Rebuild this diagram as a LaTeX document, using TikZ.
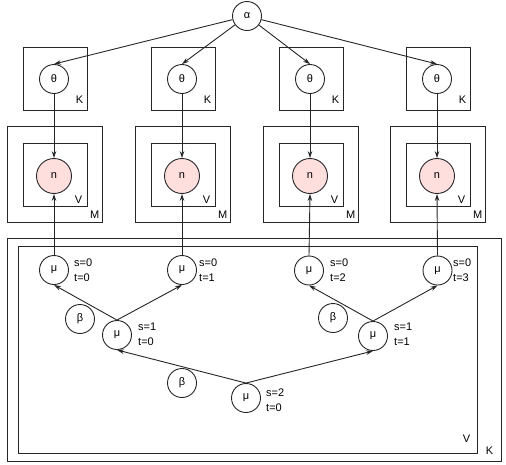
\documentclass[tikz,border=0pt]{standalone}
\usepackage{fontspec}
\setmainfont{Liberation Sans}
\usetikzlibrary{arrows.meta}
\begin{document}
\begin{tikzpicture}[x=1pt,y=-1pt,
  every node/.style={font=\fontsize{11}{15}\selectfont},
  var/.style={circle,draw=black!85,line width=0.9pt,minimum size=29pt,inner sep=0pt},
  obs/.style={circle,draw=black!85,line width=0.9pt,fill=red!13,minimum size=35pt,inner sep=0pt},
  plate/.style={rectangle,draw=black!85,line width=0.9pt,inner sep=0pt},
  platelbl/.style={anchor=base east,inner sep=0pt},
  sub/.style={anchor=west,align=left,inner sep=0pt},
  edge/.style={draw=black!85,line width=0.9pt,-{Stealth[length=7pt,width=4.5pt]}},
  line/.style={draw=black!85,line width=0.9pt}]
\useasboundingbox (0,0) rectangle (506,464);
\fill[white] (0,0) rectangle (506,464);

\node[var] (alpha) at (247,16) {α};

\foreach \i/\x in {1/54,2/182,3/310,4/437}{
  \node[plate,minimum width=95pt,minimum height=96pt] (M\i) at (\x+0.5,174) {};
  \node[plate,minimum width=64pt,minimum height=63pt] (V\i) at (\x+1,174.5) {};
  \node[plate,minimum width=64pt,minimum height=63pt] (K\i) at (\x+1,78.5) {};
  \node[var] (theta\i) at (\x,79) {θ};
  \node[obs] (n\i) at (\x,176) {n};
  \node[platelbl] at ([xshift=-4pt,yshift=7pt]K\i.south east) {K};
  \node[platelbl] at ([xshift=-5pt,yshift=2.5pt]V\i.south east) {V};
  \node[platelbl] at ([xshift=-3pt,yshift=4pt]M\i.south east) {M};
  \draw[edge] (alpha) -- (theta\i.north);
  \draw[edge] (theta\i.south) -- (n\i.north);
}

\node[plate,minimum width=494pt,minimum height=223pt] (Kb) at (254,349.5) {};
\node[plate,minimum width=459pt,minimum height=207pt] (Vb) at (247.5,349.5) {};
\node[platelbl] at ([xshift=-7pt,yshift=11pt]Vb.south east) {V};
\node[platelbl] at ([xshift=-8pt,yshift=7pt]Kb.south east) {K};

\node[var] (m00) at (54,270) {μ};
\node[var] (m01) at (182,270) {μ};
\node[var] (m02) at (309,270.5) {μ};
\node[var] (m03) at (437.5,270.5) {μ};
\node[var] (m10) at (117,335) {μ};
\node[var] (m11) at (373,336) {μ};
\node[var] (m20) at (246,398) {μ};
\node[var] (b1) at (80,319) {β};
\node[var] (b2) at (182,383) {β};
\node[var] (b3) at (333,318) {β};

\node[sub] at (74,270.5) {s=0\\t=0};
\node[sub] at (199,270.5) {s=0\\t=1};
\node[sub] at (330,270.5) {s=0\\t=2};
\node[sub] at (453,270) {s=0\\t=3};
\node[sub] at (138,334) {s=1\\t=0};
\node[sub] at (394,334) {s=1\\t=1};
\node[sub] at (266,400) {s=2\\t=0};

\draw[edge] (m00.north) -- (n1.south);
\draw[edge] (m01.north) -- (n2.south);
\draw[edge] (m02.north) -- (n3.south);
\draw[edge] (m03.north) -- (n4.south);
\draw[edge] (m10.north) -- (m00.south);
\draw[edge] (m10.north) -- (m01.south);
\draw[edge] (m11.north) -- (m02.south);
\draw[edge] (m11.north) -- (m03.south);
\draw[edge] (m20.north) -- (m10.south);
\draw[edge] (m20.north) -- (m11.south);
\end{tikzpicture}
\end{document}
